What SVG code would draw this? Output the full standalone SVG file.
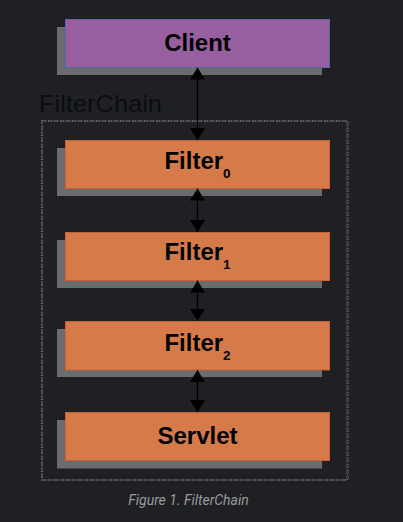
<svg xmlns="http://www.w3.org/2000/svg" width="403" height="522" viewBox="0 0 403 522">
  <defs>
    <style>
      .shadow { fill: #6b6c6e; }
      .client { fill: #975ea0; stroke: #5b66a3; stroke-width: 1; }
      .filter { fill: #d57b4a; stroke: #c8603a; stroke-width: 1; }
      .lbl { font-family: "Liberation Sans", Arial, sans-serif; font-weight: bold; font-size: 24px; fill: #000; text-anchor: middle; }
      .sub { font-size: 13.5px; }
      .conn { stroke: #000; stroke-width: 1.2; fill: none; }
    </style>
    <marker id="ah" viewBox="0 0 12 15" refX="12" refY="7.5" markerWidth="12" markerHeight="15" markerUnits="userSpaceOnUse" orient="auto-start-reverse">
      <path d="M0,0 L12,7.5 L0,15 Z" fill="#000"/>
    </marker>
  </defs>
  <rect x="0" y="0" width="403" height="522" fill="#1e2024"/>

  <g id="cluster">
    <rect x="42" y="121" width="305.5" height="359" fill="none" stroke="#636366" stroke-width="2" stroke-dasharray="4.5,1.5"/>
    <rect x="42" y="121" width="305.5" height="359" fill="none" stroke="#1e2024" stroke-width="0.8" stroke-dasharray="2.5,3.5" stroke-dashoffset="-1"/>
    <text x="39" y="112" font-family="Liberation Sans, Arial, sans-serif" font-size="24" fill="#0c0c14" textLength="123" lengthAdjust="spacingAndGlyphs">FilterChain</text>
  </g>

  <g id="client">
    <rect class="shadow" x="57" y="27" width="265" height="48"/>
    <rect class="client" x="65.5" y="19.5" width="264" height="48"/>
    <text class="lbl" x="197.5" y="51">Client</text>
  </g>

  <g id="filter0">
    <rect class="shadow" x="57" y="148" width="265" height="48"/>
    <rect class="filter" x="65.5" y="140.5" width="264" height="48"/>
    <text class="lbl" x="197.5" y="168.5">Filter<tspan class="sub" dy="9">0</tspan></text>
  </g>

  <g id="filter1">
    <rect class="shadow" x="57" y="240" width="265" height="48"/>
    <rect class="filter" x="65.5" y="232.5" width="264" height="48"/>
    <text class="lbl" x="197.5" y="260">Filter<tspan class="sub" dy="9">1</tspan></text>
  </g>

  <g id="filter2">
    <rect class="shadow" x="57" y="329" width="265" height="48"/>
    <rect class="filter" x="65.5" y="321.5" width="264" height="48.5"/>
    <text class="lbl" x="197.5" y="350.5">Filter<tspan class="sub" dy="9">2</tspan></text>
  </g>

  <g id="servlet">
    <rect class="shadow" x="57" y="420" width="265" height="48.5"/>
    <rect class="filter" x="65.5" y="412.5" width="264" height="48"/>
    <text class="lbl" x="197.5" y="443.5">Servlet</text>
  </g>

  <g id="connectors">
    <line class="conn" x1="197.5" y1="67.5" x2="197.5" y2="140" marker-start="url(#ah)" marker-end="url(#ah)"/>
    <line class="conn" x1="197.5" y1="188.5" x2="197.5" y2="232" marker-start="url(#ah)" marker-end="url(#ah)"/>
    <line class="conn" x1="197.5" y1="280.5" x2="197.5" y2="321" marker-start="url(#ah)" marker-end="url(#ah)"/>
    <line class="conn" x1="197.5" y1="370" x2="197.5" y2="412" marker-start="url(#ah)" marker-end="url(#ah)"/>
  </g>

  <text x="188.5" y="505" font-family="Roboto, 'Liberation Sans', sans-serif" font-style="italic" font-size="14" fill="#9a9a9a" text-anchor="middle">Figure 1. FilterChain</text>
</svg>
